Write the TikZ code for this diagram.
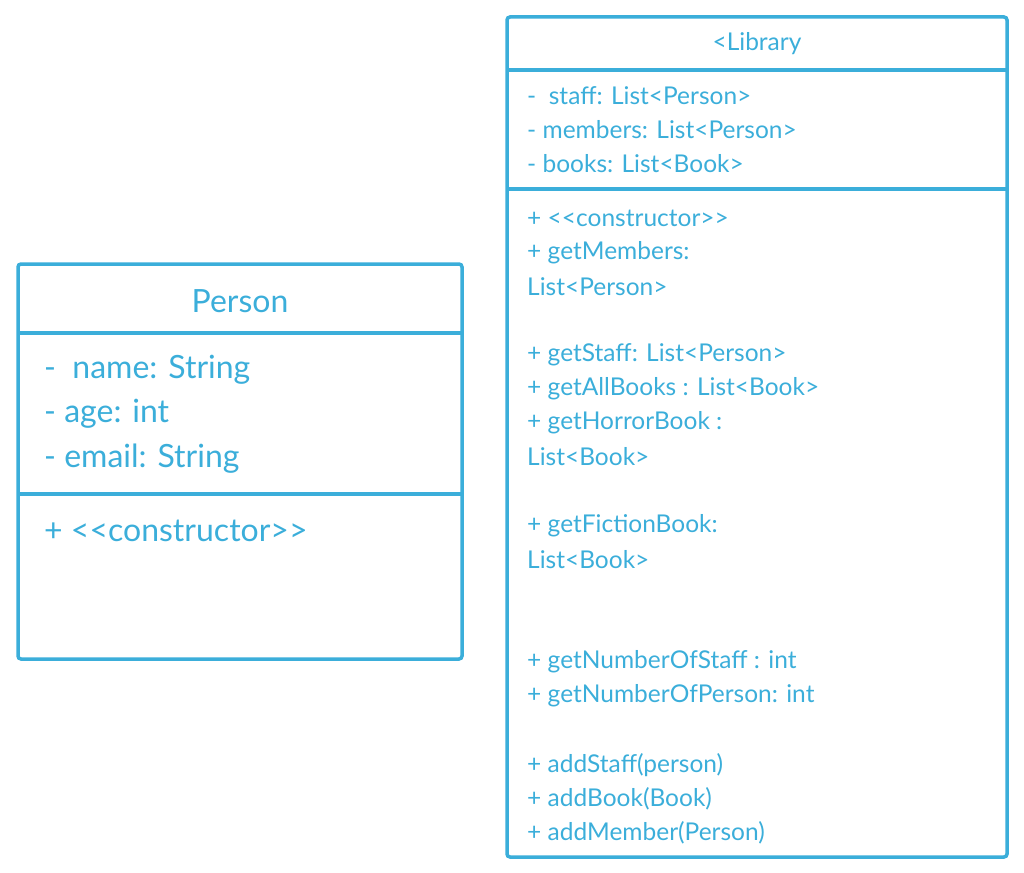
\documentclass[tikz,border=0pt]{standalone}
\usepackage{fontspec}
\setmainfont{Lato}
\definecolor{uml}{HTML}{3BAEDA}
\begin{document}
\begin{tikzpicture}[x=1pt,y=-1pt,
  box/.style={draw=uml,line width=3.5pt,rounded corners=3pt},
  sep/.style={draw=uml,line width=3.5pt},
  big/.style={anchor=west,inner sep=0pt,text=uml,font=\fontsize{32}{36}\selectfont},
  sml/.style={anchor=west,inner sep=0pt,text=uml,font=\fontsize{24.5}{28}\selectfont}]
\useasboundingbox (0,0) rectangle (1024,872);
% Person
\draw[box] (18,264) rectangle (462,659);
\draw[sep] (18,333) -- (462,333);
\draw[sep] (18,494) -- (462,494);
\node[big,anchor=center] (pt) at (240,301) {Person};
\node[big] (p1) at (44,370) {-\ \ name: String};
\node[big] (p2) at (44,414) {- age: int};
\node[big] (p3) at (44,459) {- email: String};
\node[big] (p4) at (44,531) {+ <{}<constructor>{}>};
% Library
\draw[box] (507,17) rectangle (1007,857);
\draw[sep] (507,70) -- (1007,70);
\draw[sep] (507,189) -- (1007,189);
\node[sml,anchor=center] (lt) at (757,44) {<Library};
\node[sml] (a1) at (527,96) {-\ \ staff: List<Person>};
\node[sml] (a2) at (527,130) {- members: List<Person>};
\node[sml] (a3) at (527,164) {- books: List<Book>};
\node[sml] (m1) at (527,218) {+ <{}<constructor>{}>};
\node[sml] (m2) at (527,253) {+ getMembers:};
\node[sml] (m3) at (527,287) {List<Person>};
\node[sml] (m4) at (527,355) {+ getStaff: List<Person>};
\node[sml] (m5) at (527,389) {+ getAllBooks : List<Book>};
\node[sml] (m6) at (527,423) {+ getHorrorBook :};
\node[sml] (m7) at (527,457) {List<Book>};
\node[sml] (m8) at (527,526) {+ getFictionBook:};
\node[sml] (m9) at (527,560) {List<Book>};
\node[sml] (m10) at (527,662) {+ getNumberOfStaff : int};
\node[sml] (m11) at (527,696) {+ getNumberOfPerson: int};
\node[sml] (m12) at (527,765) {+ addStaff(person)};
\node[sml] (m13) at (527,799) {+ addBook(Book)};
\node[sml] (m14) at (527,833) {+ addMember(Person)};
\end{tikzpicture}
\end{document}
